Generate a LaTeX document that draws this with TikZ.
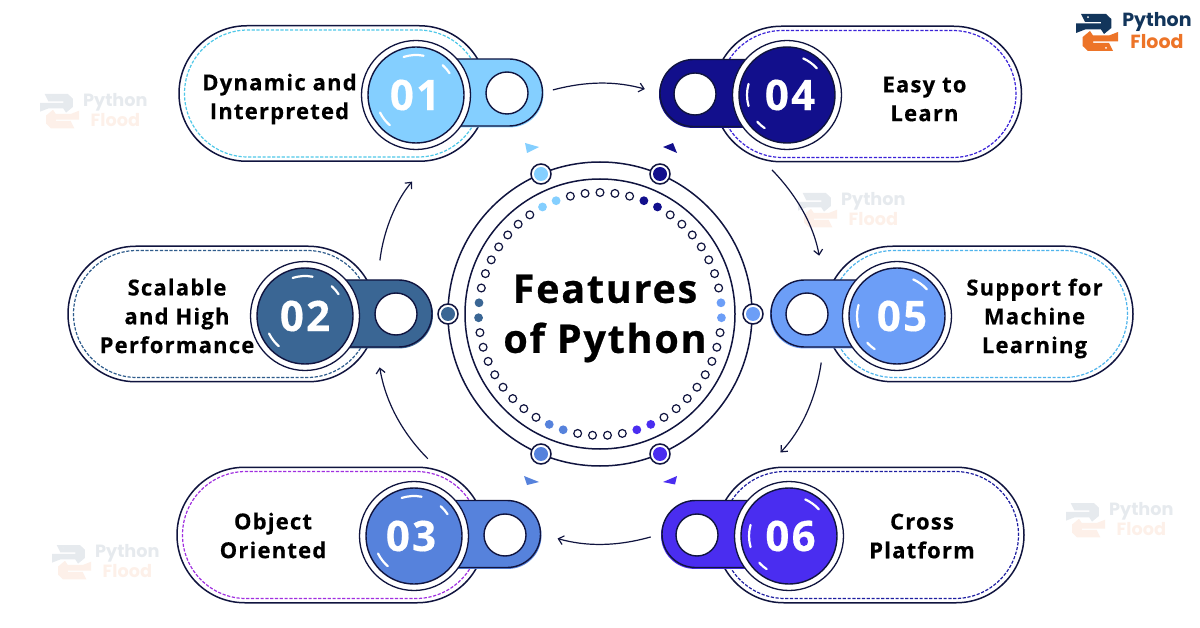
\documentclass[tikz,border=0pt]{standalone}
\usepackage{fontspec}
\usetikzlibrary{arrows.meta,calc,shapes.misc}
\newfontfamily\OSwide[LetterSpace=5.5,FakeBold=0.4]{Open Sans}
\newfontfamily\OStitle[LetterSpace=4.5,FakeBold=0.6]{Open Sans}
\newfontfamily\PopLogo{Poppins}
\definecolor{ink}{HTML}{10143F}
\definecolor{colA}{HTML}{84CFFF}
\definecolor{colB}{HTML}{3A6694}
\definecolor{colC}{HTML}{5682DC}
\definecolor{colD}{HTML}{120F8C}
\definecolor{colE}{HTML}{6C9EF7}
\definecolor{colF}{HTML}{4A2DF0}
\definecolor{dashA}{HTML}{4FC8E8}
\definecolor{dashB}{HTML}{2F5C8C}
\definecolor{dashC}{HTML}{A02FE0}
\definecolor{dashD}{HTML}{3A22D8}
\definecolor{dashE}{HTML}{4FB4EC}
\definecolor{dashF}{HTML}{1E1EA0}
\definecolor{logoN}{HTML}{12355B}
\definecolor{logoO}{HTML}{ED7428}
\tikzset{
 pillbox/.style={rounded rectangle,draw=ink,line width=1.5pt,fill=white,inner sep=0pt,minimum height=135.5pt},
 dashbox/.style={rounded rectangle,dashed,dash pattern=on 3.2pt off 1.6pt,line width=1.2pt,inner sep=0pt,minimum height=127pt},
 tabbox/.style={rounded rectangle,inner sep=0pt,minimum height=67pt,minimum width=127pt},
 holebox/.style={circle,draw=ink,line width=1.4pt,fill=white,inner sep=0pt,minimum size=42pt},
 haloc/.style={circle,draw=ink,line width=1.3pt,fill=white,inner sep=0pt,minimum size=109pt},
 numc/.style={circle,draw=ink,line width=1.4pt,inner sep=0pt,minimum size=96pt},
 numt/.style={inner sep=0pt,text=white,font=\fontsize{42}{42}\selectfont\OSwide\bfseries},
 gleam/.style={draw=white,line width=2.2pt,line cap=round},
 lab/.style={align=center,inner sep=0pt,text=black,font=\fontsize{22}{28.8}\selectfont\OSwide\bfseries},
 ring/.style={circle,draw=ink,line width=1.5pt,inner sep=0pt},
 knob/.style={circle,draw=ink,line width=1.5pt,fill=white,inner sep=0pt,minimum size=20pt},
 knobin/.style={circle,inner sep=0pt,minimum size=14pt},
 hollow/.style={circle,draw=ink,line width=1.2pt,fill=white,inner sep=0pt,minimum size=7.8pt},
 solid dot/.style={circle,inner sep=0pt,minimum size=8.8pt},
 flow/.style={draw=ink,line width=1.2pt,-{Straight Barb[length=5pt,width=9pt]}},
}
\newcommand{\pflogo}[5]{%
 \begin{scope}[shift={(#2,#3)},scale=#4,opacity=#5]
  \fill[logoN] (5,0)--(30,0)--(35.3,5)--(35.3,14)--(28,20)--(25,15.5)--(9,15.5)--(0,19)--(0,9.5)--(25,9.5)--(25,8)--(9,8)--cycle;
  \fill[logoO] (37,37)--(12,37)--(6.7,32)--(6.7,23)--(14,17)--(17,21.5)--(33,21.5)--(42,18)--(42,27.5)--(17,27.5)--(17,29)--(33,29)--cycle;
  \fill[white] (12,3.2) circle (1pt) (30,33.8) circle (1pt);
  \node[anchor=base,inner sep=0pt,text=logoN,transform shape,font=\fontsize{19}{19}\selectfont\PopLogo\bfseries] (#1py) at (81,13) {Python};
  \node[anchor=base,inner sep=0pt,text=logoO,transform shape,font=\fontsize{19}{19}\selectfont\PopLogo\bfseries] (#1fl) at (81,35) {Flood};
 \end{scope}}
\begin{document}
\begin{tikzpicture}[x=1pt,y=-1pt]
\useasboundingbox (0,0) rectangle (1200,628);
\fill[white] (0,0) rectangle (1200,628);
% watermarks
\pflogo{wa}{40}{94}{.93}{.1}
\pflogo{wb}{798}{193}{.93}{.1}
\pflogo{wc}{1066}{503}{.93}{.1}
\pflogo{wd}{52}{545}{.93}{.1}
\pflogo{wm}{1076}{14}{1}{1}
% central rings
\node[ring,minimum size=304pt] (hub) at (600,314) {};
\node[ring,minimum size=270pt] (hubin) at (600,314) {};
\foreach \a/\b in {0/2,5/11,14/21,24/27,30/37,40/46,49/50}{
 \foreach \k in {\a,...,\b}{
  \pgfmathsetmacro\ang{90-\k*7.0588}
  \node[hollow] (dot\k) at ($(hub)+(\ang:121.5pt)$) {};
 }}
\foreach \k/\c in {3/colD,4/colD,12/colE,13/colE,22/colF,23/colF,28/colC,29/colC,38/colB,39/colB,47/colA,48/colA}{
  \pgfmathsetmacro\ang{90-\k*7.0588}
  \node[solid dot,fill=\c] (dot\k) at ($(hub)+(\ang:121.5pt)$) {};
}
\foreach \n/\x/\y/\c in {1/541/174/colA,2/448/314/colB,3/541/454/colC,4/660/174/colD,5/753/314/colE,6/660/454/colF}{
  \node[knob] (knob\n) at (\x,\y) {};
  \node[knobin,fill=\c] (knobin\n) at (\x,\y) {};
}
\node[align=center,inner sep=0pt,text=black,font=\fontsize{39.5}{50}\selectfont\OStitle\bfseries] (title) at (605,318.5) {Features\\of Python};
% small triangles
\fill[colA] (525,143)--(539,147)--(527,153)--cycle;
\fill[colD] (673,143)--(663,147)--(677,153)--cycle;
\fill[colC] (524,476)--(539,482)--(527,485)--cycle;
\fill[colF] (677,476)--(663,482)--(675,484.5)--cycle;
% feature items
\foreach \i/\px/\py/\col/\dsh/\tx/\ty/\hx/\hy/\cx/\cy/\num/\sg/\nx in {
 1/333/93.5/colA/dashA/479/92.5/507/93/416/95/01/1/415,
 2/222/314/colB/dashB/368.5/313.5/396/314/305/316/02/1/305,
 3/331/535/colC/dashC/477/534/505/535/414/536/03/1/411,
 4/867.5/94/colD/dashD/723.5/93/695/94/787/95/04/-1/790,
 5/979/314/colE/dashE/834.5/313.5/807/314/897/316/05/-1/902,
 6/870/535/colF/dashF/725.5/534/697/535/789/536/06/-1/790.5}{
 \node[pillbox,minimum width=308pt] (pill\i) at (\px,\py) {};
 \node[dashbox,draw=\dsh,minimum width=297pt] (dash\i) at (\px,\py) {};
 \node[tabbox,fill=\col] (shade\i) at ([shift={(\sg*1,1.4)}]\tx,\ty) {};
 \node[tabbox,draw=ink,line width=1.4pt,fill=\col] (tab\i) at (\tx,\ty) {};
 \node[holebox] (hole\i) at (\hx,\hy) {};
 \node[haloc] (halo\i) at (\cx,\cy) {};
 \node[numc,fill=\col] (num\i) at (\cx,\cy) {};
 \node[numt] (numtext\i) at (\nx,\cy) {\num};
 \ifnum\sg>0
  \draw[gleam] (num\i.center) ++(108:40pt) arc[start angle=108,end angle=79,radius=40pt];
  \draw[gleam] (num\i.center) ++(48:40pt) arc[start angle=48,end angle=33,radius=40pt];
  \draw[gleam] (num\i.center) ++(206:40pt) arc[start angle=206,end angle=229,radius=40pt];
 \else
  \draw[gleam] (num\i.center) ++(66:40pt) arc[start angle=66,end angle=42,radius=40pt];
  \draw[gleam] (num\i.center) ++(164:40pt) arc[start angle=164,end angle=196,radius=40pt];
  \draw[gleam] (num\i.center) ++(222:40pt) arc[start angle=222,end angle=236,radius=40pt];
 \fi
}
% labels
\node[lab] (lab1) at (279.5,99) {Dynamic and\\Interpreted};
\node[lab] (lab2) at (177,316) {Scalable\\and High\\Performance};
\node[lab] (lab3) at (273,535.5) {Object\\Oriented};
\node[lab] (lab4) at (924.5,99) {Easy to\\Learn};
\node[lab] (lab5) at (1034.5,318.5) {Support for\\Machine\\Learning};
\node[lab] (lab6) at (922,536) {Cross\\Platform};
% connectors
\draw[flow,shorten <=10pt,shorten >=15pt] (tab1.east) to[bend left=15] (tab4.west);
\draw[flow,shorten <=14pt,shorten >=24pt] (pill4.212.8) to[bend left=17] (tab5.108);
\draw[flow,shorten <=15pt,shorten >=23pt] (tab5.252) to[bend left=17.5] (pill6.148.5);
\draw[flow,shorten <=11pt,shorten >=17pt] (tab6.west) to[bend left=15.6] (tab3.east);
\draw[flow,shorten <=16pt,shorten >=20pt] (pill3.31.6) to[bend left=17.6] (tab2.283.5);
\draw[flow,shorten <=19pt,shorten >=27pt] (tab2.75) to[bend left=17] (pill1.325.2);
\end{tikzpicture}
\end{document}
